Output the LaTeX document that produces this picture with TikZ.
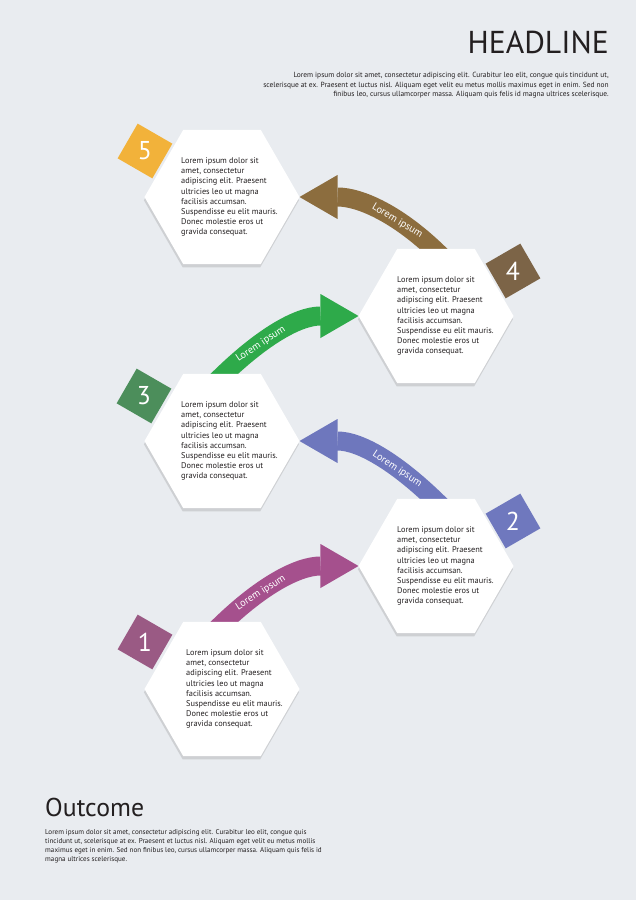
\documentclass[tikz,border=0pt]{standalone}
\usepackage{fontspec}
\setmainfont{PT Sans}
\usetikzlibrary{shapes.geometric,arrows.meta,shadows}
\definecolor{bgcol}{RGB}{233,236,240}
\definecolor{txtcol}{RGB}{35,31,32}
\definecolor{sqyellow}{RGB}{242,178,58}
\definecolor{sqbrown}{RGB}{124,100,71}
\definecolor{sqgreen}{RGB}{76,142,91}
\definecolor{sqblue}{RGB}{111,120,190}
\definecolor{sqmauve}{RGB}{154,90,132}
\definecolor{arrbrown}{RGB}{140,109,62}
\definecolor{arrgreen}{RGB}{46,170,74}
\definecolor{arrblue}{RGB}{110,119,189}
\definecolor{arrpink}{RGB}{165,80,141}
\pgfdeclarelayer{back}
\pgfdeclarelayer{bg}
\pgfsetlayers{back,bg,main}
\newcommand\hexbody{Lorem ipsum dolor sit\\amet, consectetur\\adipiscing elit. Praesent\\ultricies leo ut magna\\facilisis accumsan.\\Suspendisse eu elit mauris.\\Donec molestie eros ut\\gravida consequat.}

\begin{document}
\begin{tikzpicture}[x=0.03cm,y=0.03cm,
  hex/.style={regular polygon,regular polygon sides=6,minimum size=4.65cm,inner sep=0pt,outer sep=0pt,fill=white,
    drop shadow={shadow xshift=-0.5pt,shadow yshift=-2.8pt,opacity=0.25}},
  numsq/.style={regular polygon,regular polygon sides=4,minimum size=1.7cm,inner sep=0pt,fill=#1,text=white,
    font=\fontsize{22}{22}\selectfont},
  hextext/.style={anchor=west,align=left,inner sep=0pt,text=txtcol,font=\fontsize{7.1}{8.6}\selectfont},
  flow/.style={draw=#1,line width=0.57cm,-{Triangle[length=1.14cm,width=1.32cm,line width=0pt]}},
  flowlbl/.style={sloped,pos=0.35,inner sep=0pt,text=white,font=\fontsize{8.8}{8.8}\selectfont}]
\useasboundingbox (0,0) rectangle (636,-900);
\begin{pgfonlayer}{back}
\fill[bgcol] (0,0) rectangle (636,-900);
\end{pgfonlayer}
% number squares, behind the hexagons
\node[numsq=sqyellow,shape border rotate=-30] (s5) at (145,-151) {5};
\node[numsq=sqbrown,shape border rotate=30] (s4) at (513,-271) {4};
\node[numsq=sqgreen,shape border rotate=-30] (s3) at (144,-396) {3};
\node[numsq=sqblue,shape border rotate=30] (s2) at (513,-521) {2};
\node[numsq=sqmauve,shape border rotate=-30] (s1) at (145,-642) {1};
% hexagons
\node[hex] (h5) at (222,-197) {};
\node[hex] (h4) at (436,-316) {};
\node[hex] (h3) at (222,-441) {};
\node[hex] (h2) at (436,-566) {};
\node[hex] (h1) at (222,-689) {};
\node[hextext] (t5) at ([xshift=-1.23cm]h5.center) {\hexbody};
\node[hextext] (t4) at ([xshift=-1.17cm]h4.center) {\hexbody};
\node[hextext] (t3) at ([xshift=-1.23cm]h3.center) {\hexbody};
\node[hextext] (t2) at ([xshift=-1.17cm]h2.center) {\hexbody};
\node[hextext] (t1) at ([xshift=-1.08cm]h1.center) {\hexbody};
% curved arrows
\begin{pgfonlayer}{bg}
\draw[flow=arrpink] ([shift={(-6,-8)}]h1.north) to[out=45,in=180] node[flowlbl] {Lorem ipsum} (h2.west);
\draw[flow=arrblue] ([shift={(6,-8)}]h2.north) to[out=135,in=0] node[flowlbl] {Lorem ipsum} (h3.east);
\draw[flow=arrgreen] ([shift={(-6,-8)}]h3.north) to[out=45,in=180] node[flowlbl] {Lorem ipsum} (h4.west);
\draw[flow=arrbrown] ([shift={(6,-8)}]h4.north) to[out=135,in=0] node[flowlbl] {Lorem ipsum} (h5.east);
\end{pgfonlayer}
% headline and outcome
\node[anchor=base east,inner sep=0pt,text=txtcol,font=\fontsize{27}{27}\selectfont] (head) at (609,-54) {HEADLINE};
\node[anchor=north east,align=right,inner sep=0pt,text=txtcol,font=\fontsize{6.35}{8.1}\selectfont] (headtxt) at (609,-72)
  {Lorem ipsum dolor sit amet, consectetur adipiscing elit. Curabitur leo elit, congue quis tincidunt ut,\\
   scelerisque at ex. Praesent et luctus nisl. Aliquam eget velit eu metus mollis maximus eget in enim. Sed non\\
   finibus leo, cursus ullamcorper massa. Aliquam quis felis id magna ultrices scelerisque.};
\node[anchor=base west,text=txtcol,font=\fontsize{22}{22}\selectfont,inner sep=0pt] (out) at (45,-816) {Outcome};
\node[anchor=north west,align=left,inner sep=0pt,text=txtcol,font=\fontsize{6.05}{7.7}\selectfont] (outtxt) at (45,-829)
  {Lorem ipsum dolor sit amet, consectetur adipiscing elit. Curabitur leo elit, congue quis\\
   tincidunt ut, scelerisque at ex. Praesent et luctus nisl. Aliquam eget velit eu metus mollis\\
   maximus eget in enim. Sed non finibus leo, cursus ullamcorper massa. Aliquam quis felis id\\
   magna ultrices scelerisque.};
\end{tikzpicture}
\end{document}
